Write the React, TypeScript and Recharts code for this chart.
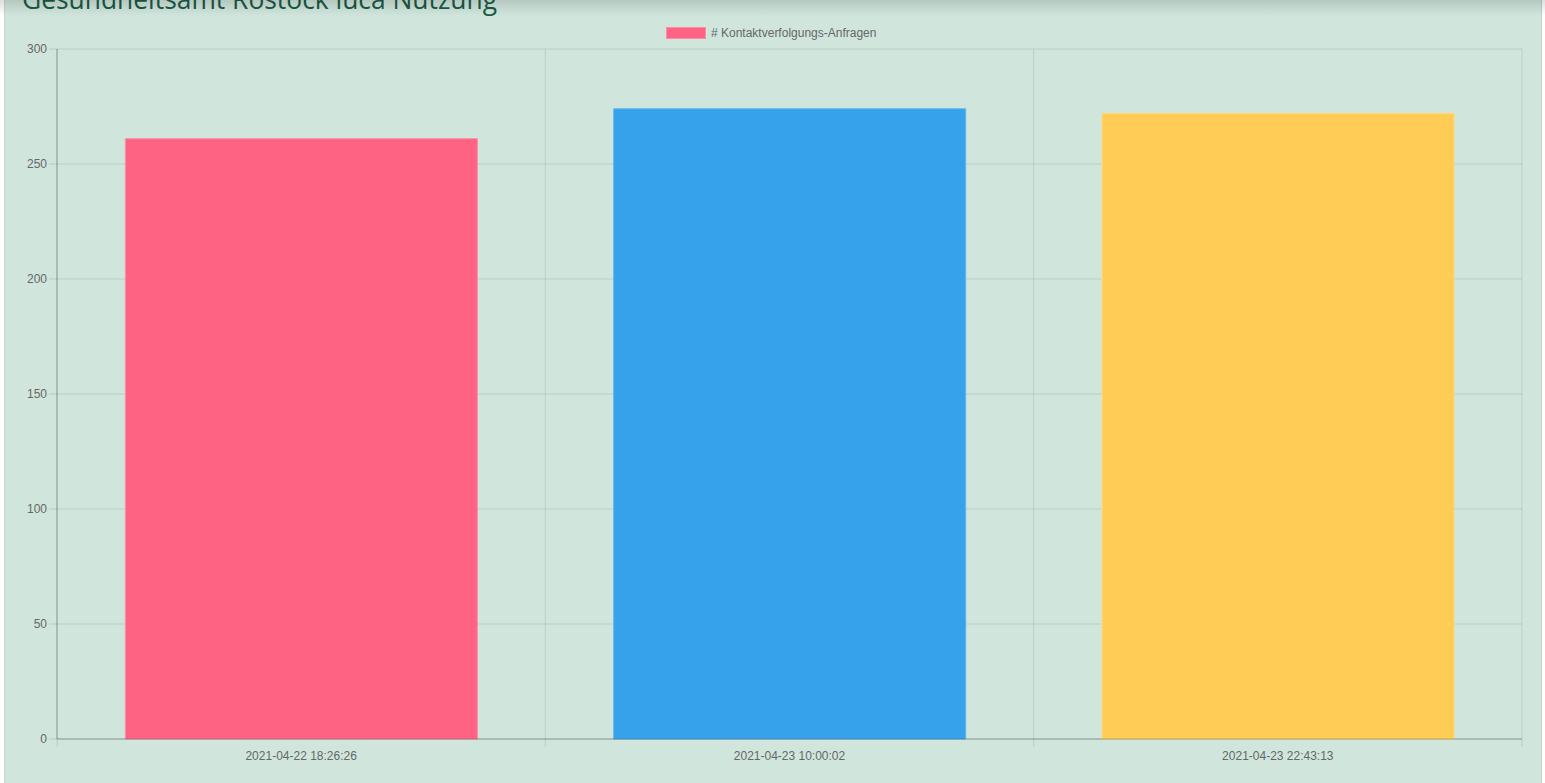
import React from "react";
import { BarChart, Bar, XAxis, YAxis, CartesianGrid, Cell } from "recharts";

const categories = ["2021-04-22 18:26:26", "2021-04-23 10:00:02", "2021-04-23 22:43:13"];
const values = [261, 274, 272];
const barColors = ["#ff6384", "#36a2eb", "#ffcd56"];
const barBorders = ["#ff8ba3", "#5eb5ef", "#ffd97c"];
const yTicks = [0, 50, 100, 150, 200, 250, 300];
const seriesName = "# Kontaktverfolgungs-Anfragen";
const title = "Gesundheitsamt Rostock luca Nutzung";

const data = categories.map((c, i) => ({ category: c, value: values[i] }));

const W = 1545;
const H = 783;
const tickFont = { fontFamily: "'Liberation Sans', Arial, Helvetica, sans-serif", fontSize: 12, fill: "#666" };

export default function App() {
  return (
    <div style={{ position: "absolute", left: 0, top: 0, width: W, height: H, background: "#ffffff", overflow: "hidden" }}>
      <div
        style={{
          position: "absolute",
          left: 4,
          top: -40,
          width: 1536,
          height: H + 80,
          background: "#d0e6dd",
          borderLeft: "1px solid #c4d8cf",
          borderRight: "1px solid #bcd0c6",
        }}
      />
      <div
        style={{
          position: "absolute",
          left: 22,
          top: -16,
          fontFamily: "'Open Sans', 'Noto Sans', sans-serif",
          fontSize: 26.4,
          lineHeight: "30px",
          color: "#1b5a47",
          whiteSpace: "nowrap",
        }}
      >
        {title}
      </div>
      <div
        style={{
          position: "absolute",
          left: 666,
          top: 26,
          height: 14,
          display: "flex",
          alignItems: "center",
          fontFamily: "'Liberation Sans', Arial, sans-serif",
          fontSize: 12,
          color: "#666",
          whiteSpace: "nowrap",
        }}
      >
        <span
          style={{
            display: "inline-block",
            width: 38,
            height: 10,
            background: barColors[0],
            border: "1px solid " + barBorders[0],
            marginRight: 5,
          }}
        />
        {seriesName}
      </div>
      <div style={{ position: "absolute", left: 0, top: 0 }}>
        <BarChart
          width={W}
          height={H}
          data={data}
          margin={{ top: 49, right: 23, bottom: 0, left: 0 }}
          barCategoryGap="14%"
        >
          <CartesianGrid
            stroke="rgba(0,0,0,0.1)"
            verticalCoordinatesGenerator={({ offset }: any) =>
              [0, 1, 2, 3].map((i) => offset.left + (i * offset.width) / 3)
            }
            vertical={(p: any) => (
              <line
                key={p.key ?? `v-${p.index}`}
                x1={p.x1}
                x2={p.x2}
                y1={p.y1}
                y2={p.y2 + 8}
                stroke="rgba(0,0,0,0.1)"
                strokeWidth={1}
              />
            )}
          />
          <XAxis
            dataKey="category"
            height={44}
            tickLine={false}
            tickSize={8}
            tickMargin={4}
            axisLine={{ stroke: "rgba(0,0,0,0.28)" }}
            tick={tickFont}
            interval={0}
          />
          <YAxis
            width={57}
            domain={[0, 300]}
            ticks={yTicks}
            tickSize={8}
            tickMargin={2}
            tickLine={{ stroke: "rgba(0,0,0,0.12)" }}
            axisLine={{ stroke: "rgba(0,0,0,0.28)" }}
            tick={tickFont}
          />
          <Bar dataKey="value" name={seriesName} isAnimationActive={false} strokeWidth={1}>
            {data.map((d, i) => (
              <Cell key={d.category} fill={barColors[i]} stroke={barBorders[i]} />
            ))}
          </Bar>
        </BarChart>
      </div>
      <div
        style={{
          position: "absolute",
          left: 0,
          top: 0,
          width: W,
          height: 16,
          background: "linear-gradient(to bottom, rgba(0,0,0,0.13), rgba(0,0,0,0))",
          pointerEvents: "none",
        }}
      />
    </div>
  );
}
